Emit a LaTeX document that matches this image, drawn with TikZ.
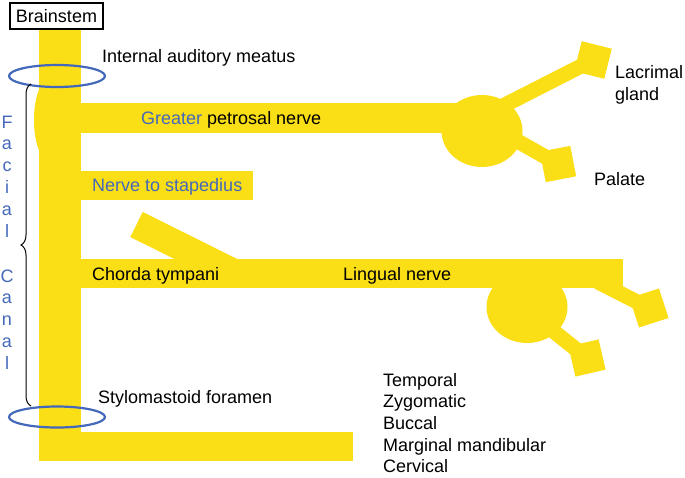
\documentclass[tikz,border=0pt]{standalone}
\usepackage{fontspec}
\setmainfont{Liberation Sans}
\usetikzlibrary{shapes.geometric,decorations.pathreplacing,calc}
\definecolor{nerveyellow}{RGB}{250,222,22}
\definecolor{canalblue}{RGB}{68,104,186}
\begin{document}
\begin{tikzpicture}[x=1pt,y=-1pt,
    font=\fontsize{18}{22}\selectfont,
    branch/.style={draw=nerveyellow,line width=15pt},
    ganglion/.style={ellipse,fill=nerveyellow,inner sep=0pt,minimum width=81pt,minimum height=72pt},
    gland/.style={rectangle,fill=nerveyellow,inner sep=0pt,minimum size=31pt},
    txt/.style={anchor=base west,inner sep=0pt},
    canal/.style={draw=canalblue,line width=2.2pt}]
      \useasboundingbox (0,0) rectangle (685,477);
      \fill[nerveyellow] (39,30) rectangle (81,461);
      \fill[nerveyellow] (46,120) ellipse [x radius=12, y radius=37];
      \fill[nerveyellow] (60,103) rectangle (482,133);
      \fill[nerveyellow] (60,171) rectangle (253,200);
      \fill[nerveyellow] (60,259) rectangle (623,288);
      \fill[nerveyellow] (39,432) rectangle (353,461);
      \coordinate (ctin) at (136.5,224.5);
      \coordinate (ctjoin) at (236,274);
      \draw[draw=nerveyellow, line width=28pt] (ctin) -- (ctjoin);
      \node[ganglion] (ppg) at (482,131) {};
      \node[ganglion] (smg) at (527,307) {};
      \node[gland, rotate=-14] (lacgland) at (593,60) {};
      \node[gland, rotate=11] (palgland) at (558,164) {};
      \node[gland, rotate=18] (lingend) at (649,308) {};
      \node[gland, rotate=13] (smgland) at (587,358) {};
      \coordinate (lingfork) at (598,282);
      \draw[branch] ($(ppg.center)+(13,-21)$) -- (lacgland.center);
      \draw[branch] ($(ppg.center)+(23,3)$) -- (palgland.center);
      \draw[branch] ($(smg.center)+(0,3)$) -- (smgland.center);
      \draw[branch] (lingfork) -- (lingend.center);
      \draw[canal] (57,76) ellipse [x radius=48, y radius=11];
      \draw[canal] (57,417) ellipse [x radius=48, y radius=10.5];
      \draw[decorate, decoration={brace, amplitude=10pt}, line width=1pt] (31,406) -- (31,84);
      \node[draw, line width=2pt, inner sep=0pt, minimum width=93pt, minimum height=26pt] (bs) at (56.5,16) {Brainstem};
      \node[txt] (iam) at (102,62) {Internal auditory meatus};
      \node[txt] (gpn) at (141,124.5) {\textcolor{canalblue}{Greater} petrosal nerve};
      \node[txt, text=canalblue] (nts) at (92,191) {Nerve to stapedius};
      \node[txt] (ct) at (92,280) {Chorda tympani};
      \node[txt] (ln) at (343,280) {Lingual nerve};
      \node[txt] (smf) at (98,403) {Stylomastoid foramen};
      \node[txt] (lac) at (615,78) {Lacrimal};
      \node[txt] (gl) at (615,100) {gland};
      \node[txt] (pal) at (594,185) {Palate};
      \foreach \name [count=\i from 0] in {Temporal,Zygomatic,Buccal,Marginal mandibular,Cervical}
        \node[txt] (br\i) at (383,386+21.7*\i) {\name};
      \foreach \ch [count=\i from 0] in {F,a,c,i,a,l}
        \node[txt, anchor=base, text=canalblue] (fc\i) at (7,128+21.8*\i) {\ch};
      \foreach \ch [count=\i from 0] in {C,a,n,a,l}
        \node[txt, anchor=base, text=canalblue] (cn\i) at (7,282+21.8*\i) {\ch};
    \end{tikzpicture}
\end{document}
